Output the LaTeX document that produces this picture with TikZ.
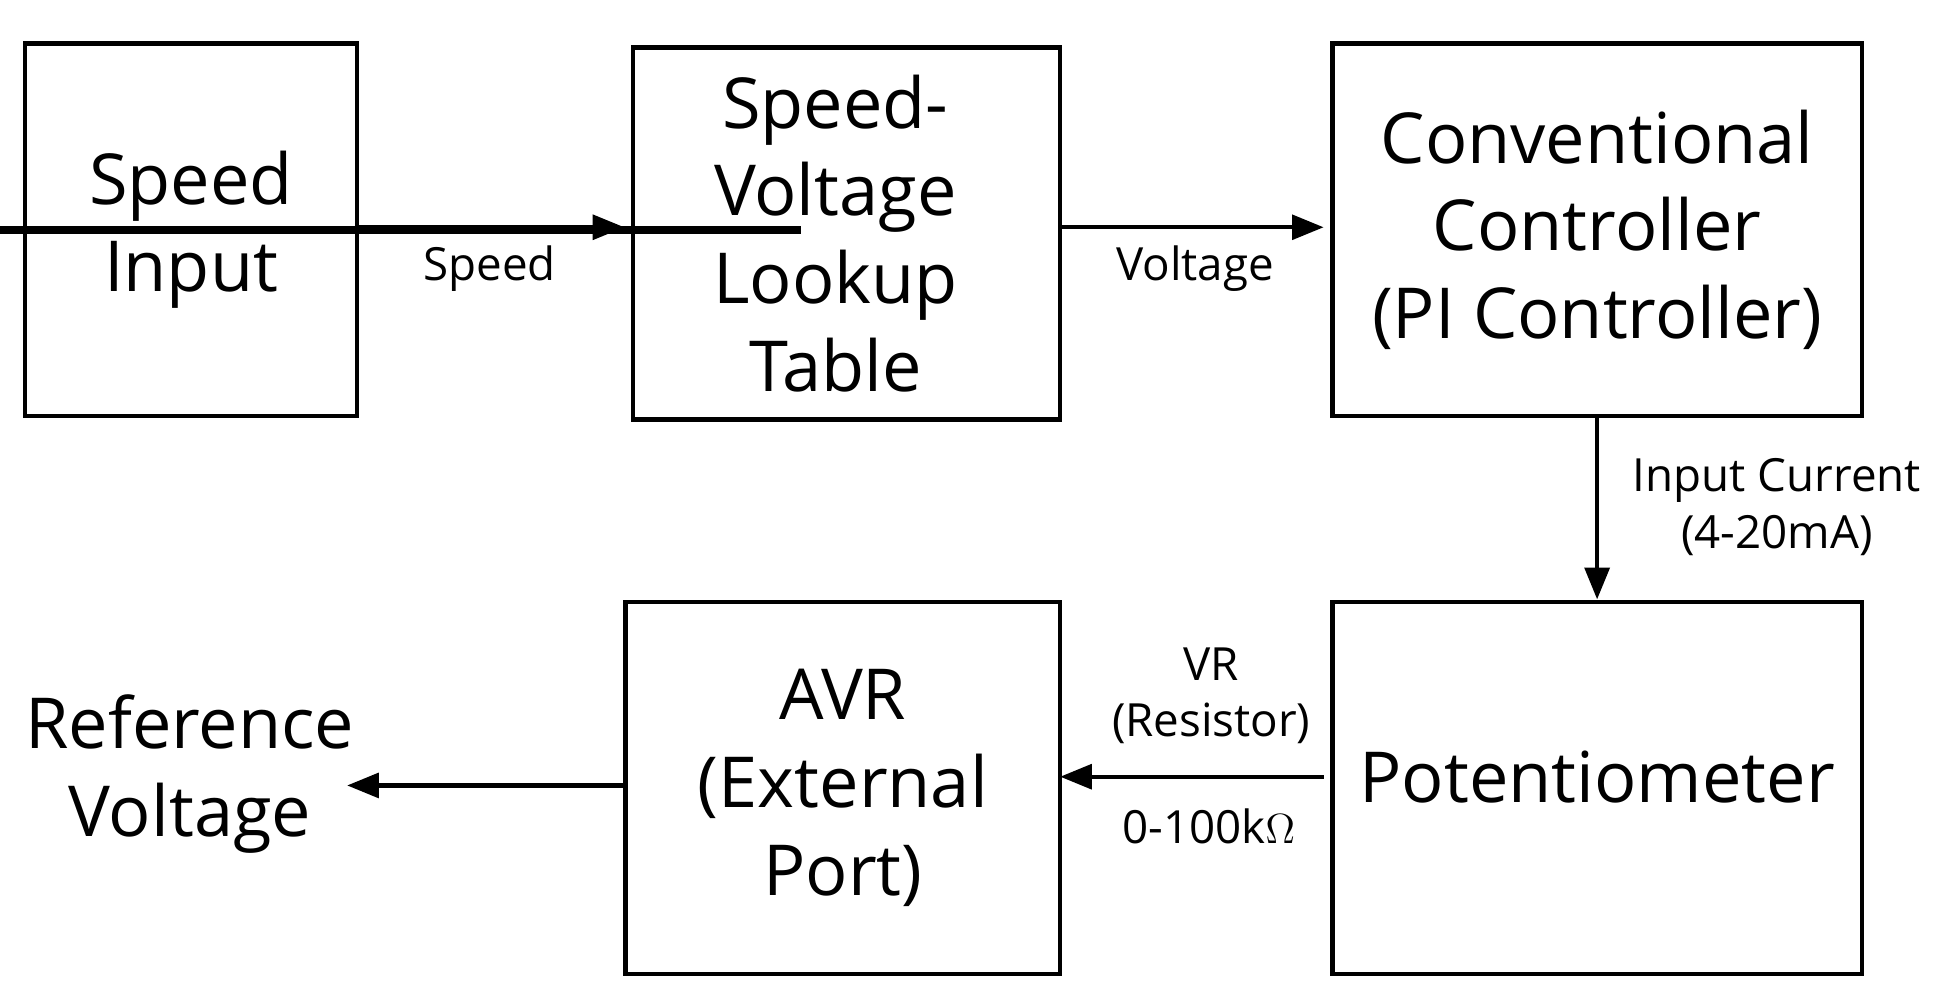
\documentclass[tikz,border=0pt]{standalone}
\usepackage{fontspec}
\setmainfont{Open Sans}
\usetikzlibrary{arrows.meta}
\begin{document}
\begin{tikzpicture}[x=0.012487cm,y=-0.012487cm,
 box/.style={draw,line width=1.3pt,font=\fontsize{20}{25}\selectfont,align=center,inner sep=0pt},
 lab/.style={font=\fontsize{13}{16}\selectfont,align=center},
 arr/.style={-{Triangle[length=9pt,width=7pt]},line width=1.2pt}]
\useasboundingbox (0,0) rectangle (1568,804);
\node[box,minimum width=266\pgflinewidth] (si) at (153,184) {};
\draw[line width=1.3pt] (20,35) rectangle (286,333);
\node[font=\fontsize{20}{25}\selectfont,align=center] (sit) at (153,184) {Speed\\Input};
\draw[line width=1.3pt] (507,38) rectangle (849,336);
\node[font=\fontsize{20}{25}\selectfont,align=center] (lut) at (669,187) {Speed-\\Voltage\\Lookup\\Table};
\draw[line width=1.3pt] (1067,35) rectangle (1491,333);
\node[font=\fontsize{20}{25}\selectfont,align=center] (pi) at (1279,184) {Conventional\\Controller\\(PI Controller)};
\draw[line width=1.3pt] (1067,482) rectangle (1491,780);
\node[font=\fontsize{20}{25}\selectfont,align=center] (pot) at (1279,622) {Potentiometer};
\draw[line width=1.3pt] (501,482) rectangle (849,780);
\node[font=\fontsize{20}{25}\selectfont,align=center] (avr) at (675,631) {AVR\\(External\\Port)};
\node[font=\fontsize{20}{25}\selectfont,align=center] (ref) at (152,620) {Reference\\Voltage};
\coordinate (a1) at (286,182); \coordinate (b1) at (500,182);
\coordinate (a2) at (849,182); \coordinate (b2) at (1060,182);
\coordinate (a3) at (1279,333); \coordinate (b3) at (1279,480);
\coordinate (a4) at (1060,622); \coordinate (b4) at (849,622);
\coordinate (a5) at (501,629); \coordinate (b5) at (278,629);
\draw[arr] (a1) -- (b1);
\draw[arr] (a2) -- (b2);
\draw[arr] (a3) -- (b3);
\draw[arr] (a4) -- (b4);
\draw[arr] (a5) -- (b5);
\node[lab] (l1) at (392,215) {Speed};
\node[lab] (l2) at (957,215) {Voltage};
\node[lab] (l3) at (1423,406) {Input Current\\(4-20mA)};
\node[lab] (l4) at (970,557) {VR\\(Resistor)};
\node[lab] (l5) at (968,662) {0-100k$\Omega$};
\end{tikzpicture}
\end{document}
